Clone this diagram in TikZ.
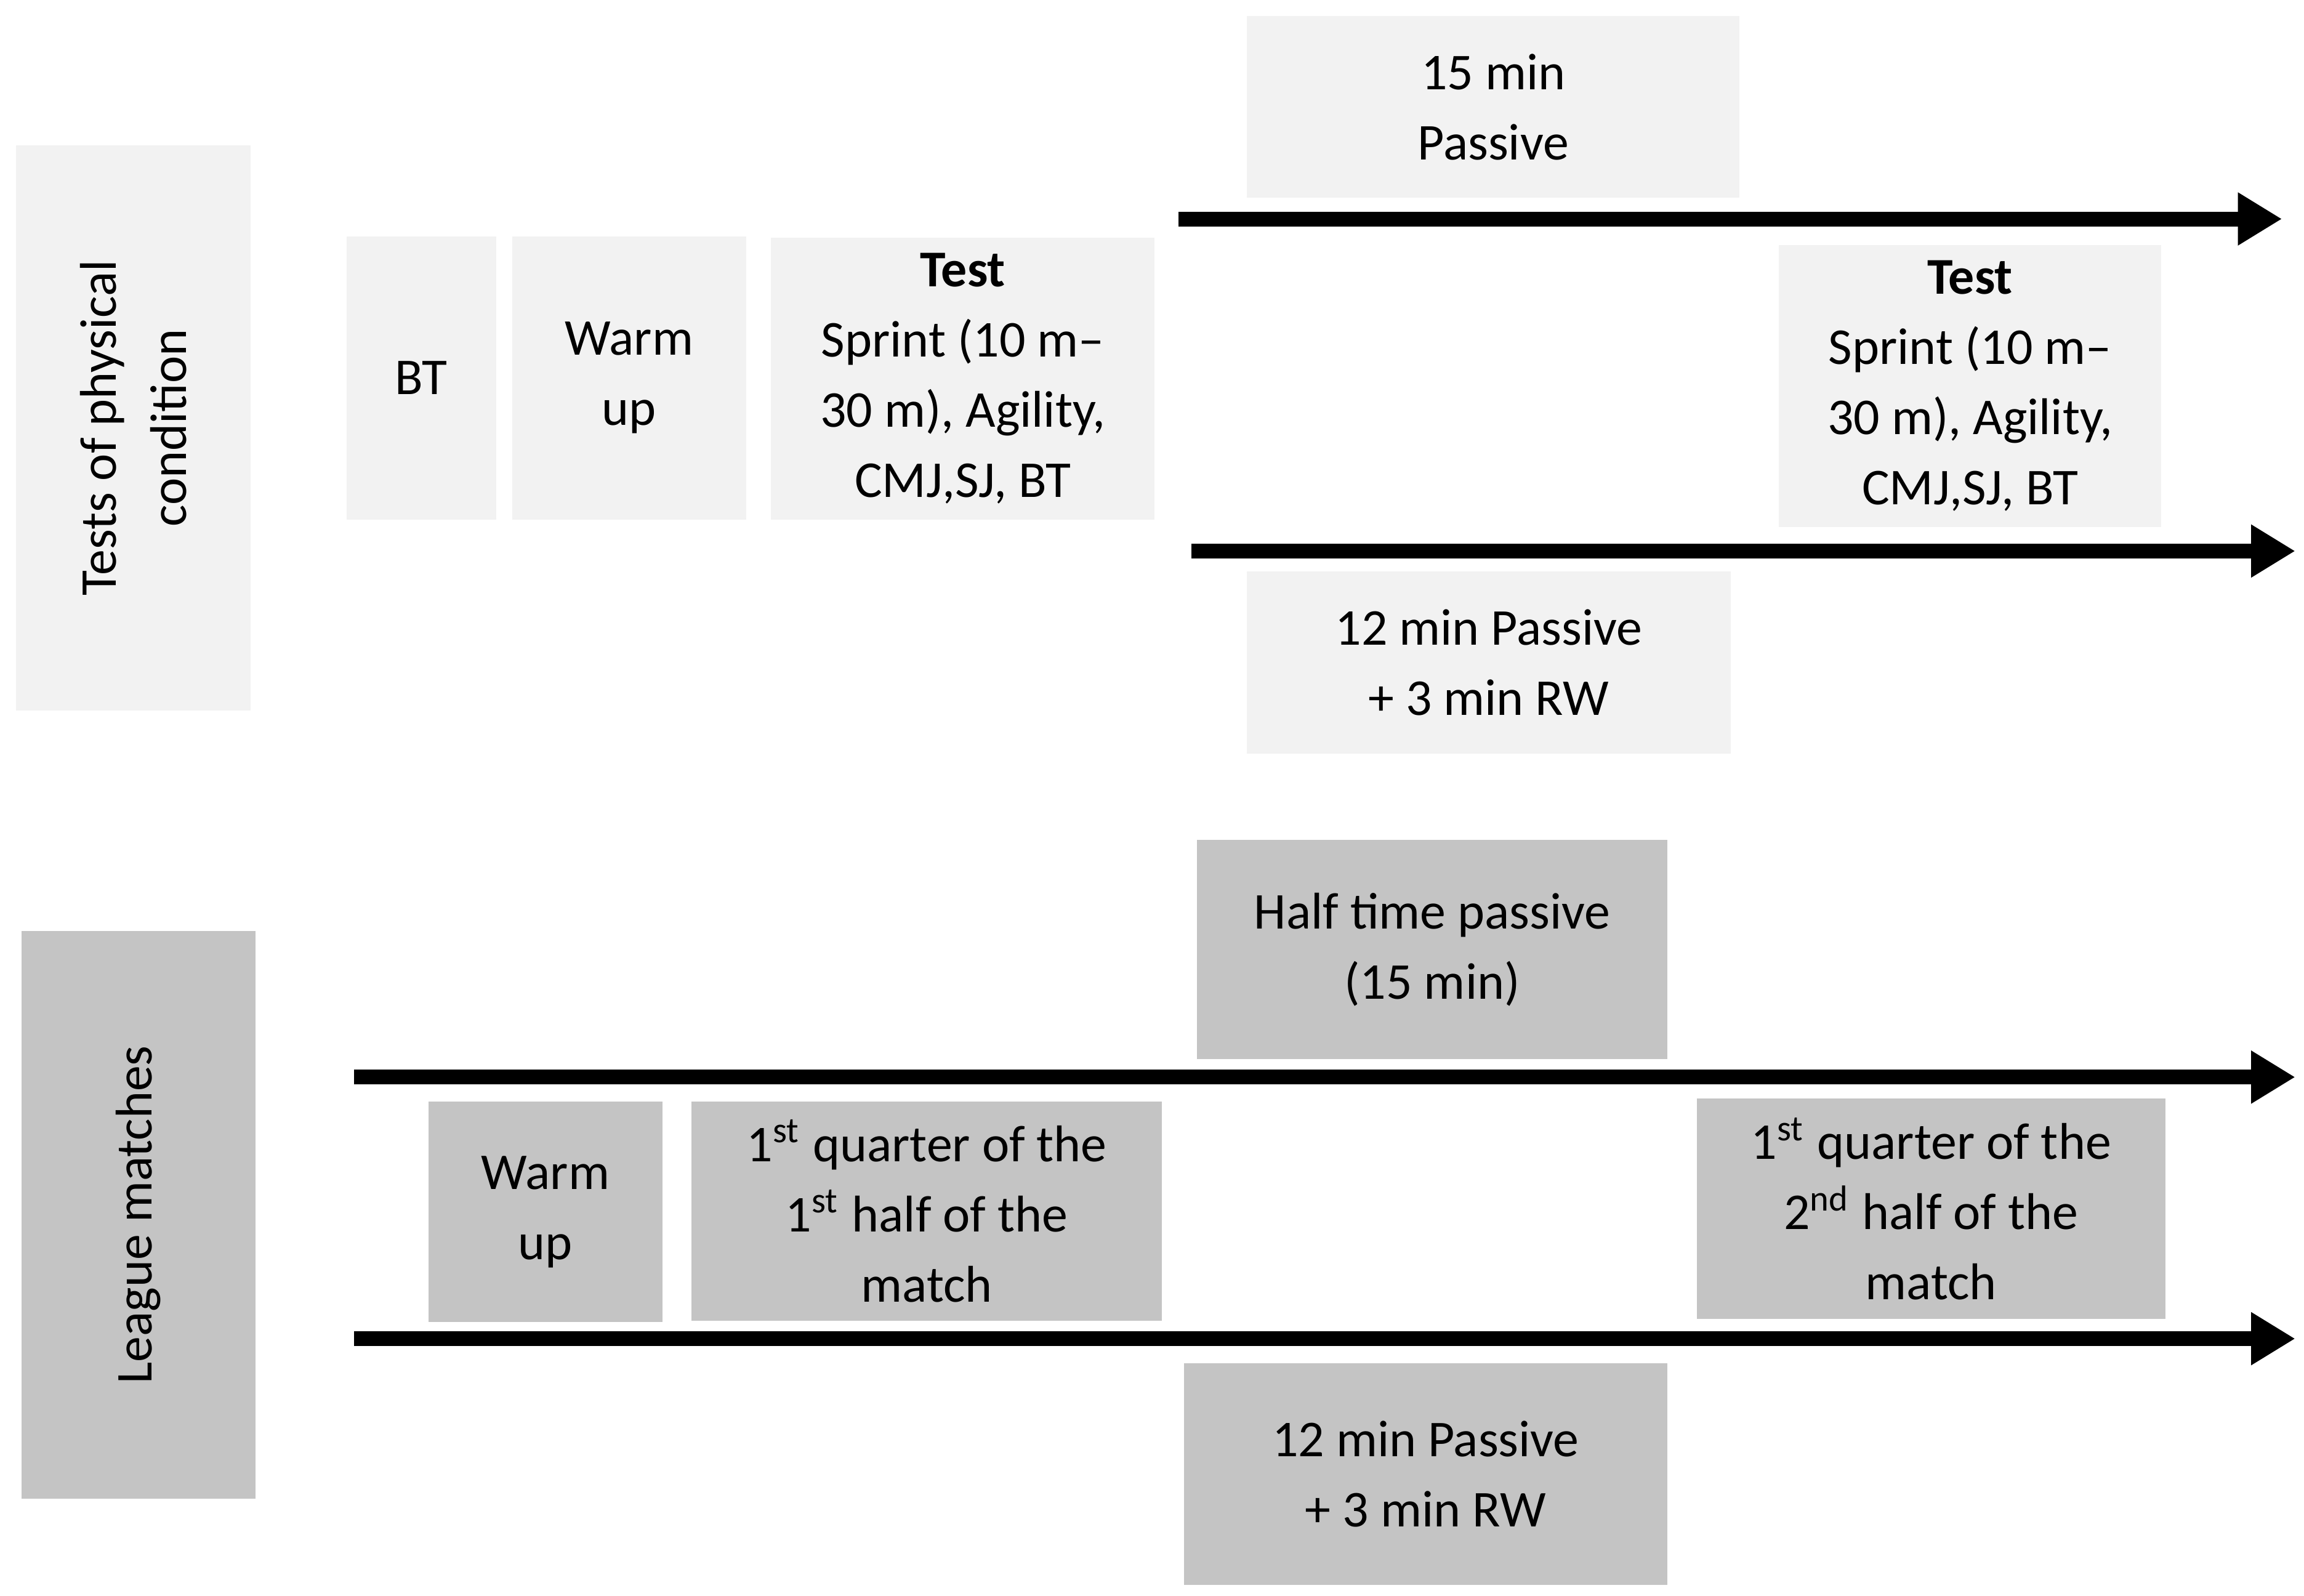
\documentclass[tikz,border=0pt]{standalone}
\usepackage{fontspec}
\setmainfont{Carlito}
\usetikzlibrary{arrows.meta}
\definecolor{lg}{HTML}{F2F2F2}
\definecolor{dg}{HTML}{C4C4C4}
\tikzset{
 bx/.style={anchor=north west,inner sep=0pt,align=center,font=\fontsize{10}{13.6}\selectfont},
 lt/.style={bx,fill=lg},
 dk/.style={bx,fill=dg},
 sz/.style 2 args={minimum width=#1cm,minimum height=#2cm},
 tl/.style={line width=0.1cm,-{Triangle[length=0.3cm,width=0.34cm]}}
}
\begin{document}
\begin{tikzpicture}
\useasboundingbox (0,0) rectangle (15.68,-10.86);
% top section
\node[lt,sz={1.60}{3.85}] (L1) at (0.10,-0.98) {};
\node[rotate=90,align=center,font=\fontsize{10}{13.6}\selectfont] at (L1.center) {Tests of physical\\condition};
\node[lt,sz={1.02}{1.93}] (bt) at (2.35,-1.60) {BT};
\node[lt,sz={1.59}{1.93}] (wu1) at (3.48,-1.60) {Warm\\up};
\node[lt,sz={2.61}{1.92}] (t1) at (5.24,-1.61) {\textbf{Test}\\Sprint (10 m–\\30 m), Agility,\\CMJ,SJ, BT};
\node[lt,sz={3.35}{1.24}] (p15) at (8.48,-0.10) {15 min\\Passive};
\node[lt,sz={2.60}{1.92}] (t2) at (12.10,-1.66) {\textbf{Test}\\Sprint (10 m–\\30 m), Agility,\\CMJ,SJ, BT};
\node[lt,sz={3.29}{1.24}] (p12) at (8.48,-3.88) {12 min Passive\\+ 3 min RW};
\coordinate (a1s) at (8.02,-1.49); \coordinate (a1e) at (15.53,-1.49);
\coordinate (a2s) at (8.11,-3.75); \coordinate (a2e) at (15.62,-3.75);
\draw[tl] (a1s) -- (a1e);
\draw[tl] (a2s) -- (a2e);
% bottom section
\node[dk,sz={1.59}{3.86}] (L2) at (0.14,-6.33) {};
\node[rotate=90,font=\fontsize{10}{13.6}\selectfont] at (L2.center) {League matches};
\node[dk,sz={3.20}{1.49}] (ht) at (8.14,-5.71) {Half time passive\\(15 min)};
\node[dk,sz={1.59}{1.50}] (wu2) at (2.91,-7.49) {Warm\\up};
\node[dk,sz={3.20}{1.49}] (q1) at (4.70,-7.49) {1\textsuperscript{st} quarter of the\\1\textsuperscript{st} half of the\\match};
\node[dk,sz={3.19}{1.50}] (q2) at (11.54,-7.47) {1\textsuperscript{st} quarter of the\\2\textsuperscript{nd} half of the\\match};
\node[dk,sz={3.29}{1.51}] (p12b) at (8.05,-9.27) {12 min Passive\\+ 3 min RW};
\coordinate (a3s) at (2.41,-7.33); \coordinate (a3e) at (15.62,-7.33);
\coordinate (a4s) at (2.41,-9.11); \coordinate (a4e) at (15.62,-9.11);
\draw[tl] (a3s) -- (a3e);
\draw[tl] (a4s) -- (a4e);
\end{tikzpicture}
\end{document}
